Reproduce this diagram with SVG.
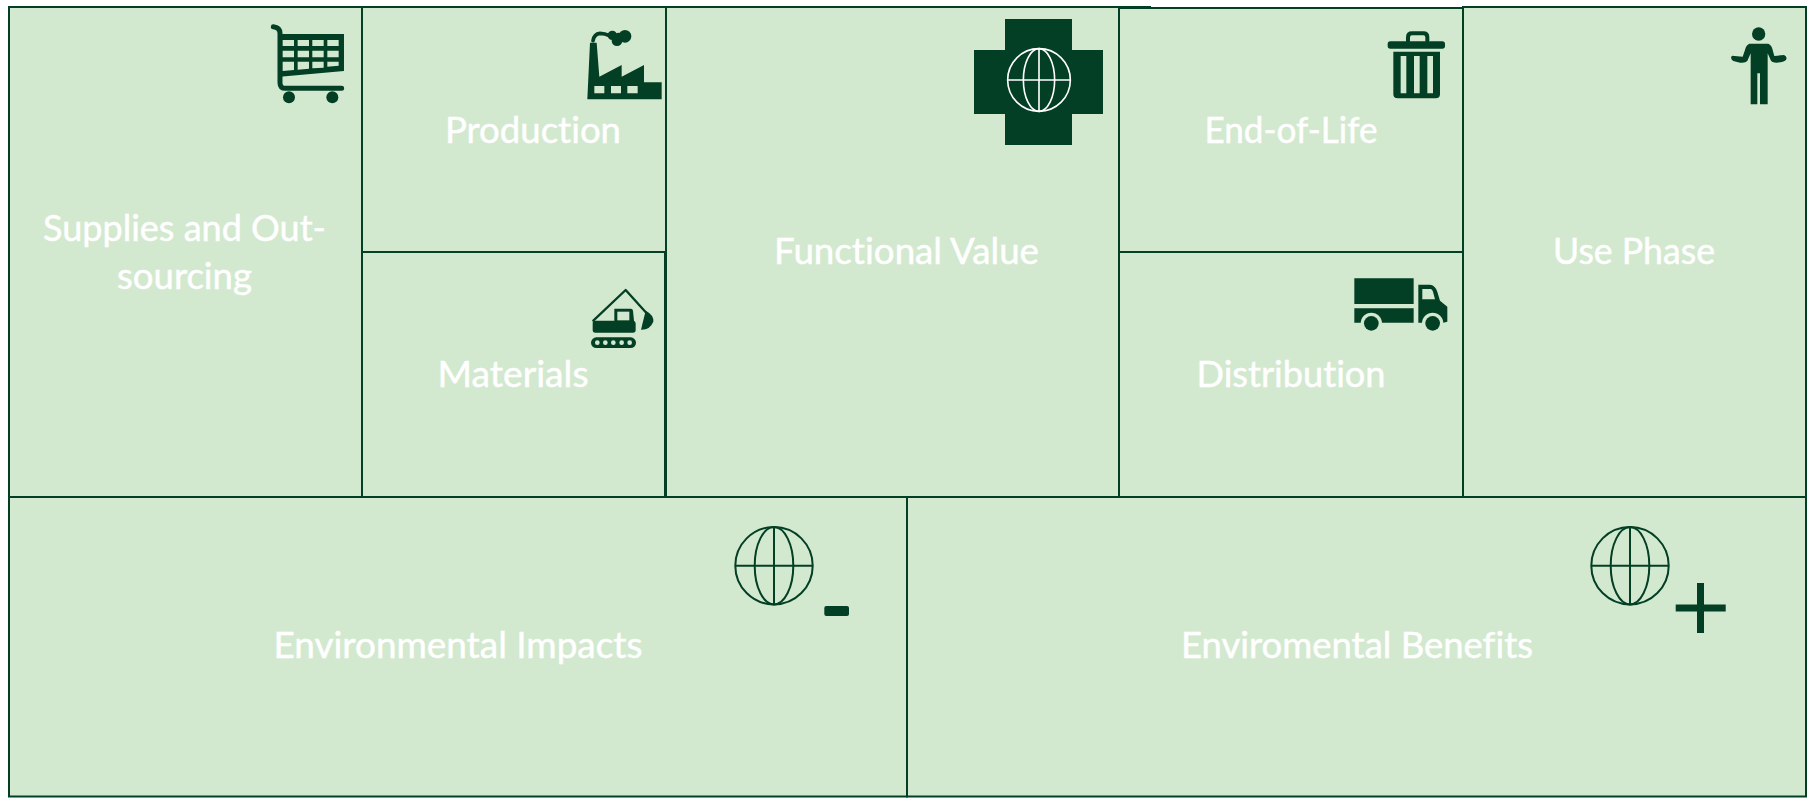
<svg xmlns="http://www.w3.org/2000/svg" width="1820" height="806" viewBox="0 0 1820 806">
<style>
.cell{fill:#d3e9cf;stroke:#033f24;stroke-width:2}
.lbl{font-family:"Lato","Liberation Sans",sans-serif;font-size:37px;fill:#fff;stroke:#fff;stroke-width:.45;text-anchor:middle;font-variant-ligatures:none}
.ic{fill:#033f24}
.hole{fill:#d3e9cf}
.ln{fill:none;stroke:#033f24;stroke-linecap:round;stroke-linejoin:round}
</style>
<defs>
<g id="globe" fill="none" stroke-width="2">
<circle cx="0" cy="0" r="38.7"/>
<ellipse cx="0" cy="0" rx="19.3" ry="38.7"/>
<path d="M0,-38.7V38.7M-38.7,0H38.7"/>
</g>
</defs>
<rect width="1820" height="806" fill="#fff"/>

<g id="functional-value">
<rect class="cell" x="666" y="7" width="484" height="490"/>
<path class="ic" d="M1005,19H1072V50H1103V114H1072V145H1005V114H974V50H1005Z"/>
<use href="#globe" transform="translate(1039,80) scale(.81)" stroke="#fff"/>
<text class="lbl" x="906.5" y="264" textLength="265" lengthAdjust="spacingAndGlyphs">Functional Value</text>
</g>

<g id="supplies">
<rect class="cell" x="9" y="7" width="353" height="490"/>
<g transform="translate(260,10) scale(.3333)">
<path class="ln" d="M40,50Q60,52 60,70V218Q60,235 77,235H245" stroke-width="15"/>
<path class="ic" d="M60,72H252V183L60,200Z"/>
<path class="hole" d="M68,90H102V108H68ZM113,90H147V108H113ZM157,90H191V108H157ZM202,90H236V108H202ZM68,122H102V142H68ZM113,122H147V142H113ZM157,122H191V142H157ZM202,122H236V142H202ZM68,155H102V180L68,183ZM113,155H147V176L113,179ZM157,155H191V173L157,175ZM202,155H236V167L202,170Z"/>
<circle class="ic" cx="87" cy="262" r="18"/>
<circle class="ic" cx="217" cy="262" r="18"/>
</g>
<text class="lbl" x="184.5" y="241" textLength="283" lengthAdjust="spacingAndGlyphs">Supplies and Out-</text>
<text class="lbl" x="184.5" y="289" textLength="135" lengthAdjust="spacingAndGlyphs">sourcing</text>
</g>

<g id="production">
<rect class="cell" x="362" y="7" width="304" height="245"/>
<g transform="translate(570,20) scale(.3333)">
<path class="ic" d="M60,68H80L88,170L155,135V170L222,135V187H275V238H52Z"/>
<path class="hole" d="M73,198H103V220H73ZM123,198H153V220H123ZM172,198H203V220H172Z"/>
<path class="ln" d="M69,62Q72,42 90,40Q105,40 118,47" stroke-width="11"/>
<circle class="ic" cx="127" cy="46" r="14"/>
<circle class="ic" cx="141" cy="62" r="16"/>
<circle class="ic" cx="165" cy="49" r="19"/>
<circle class="ic" cx="146" cy="50" r="12"/>
</g>
<text class="lbl" x="533" y="143" textLength="176" lengthAdjust="spacingAndGlyphs">Production</text>
</g>

<g id="materials">
<rect class="cell" x="362" y="252" width="303" height="245"/>
<g transform="translate(580,280) scale(.3333)">
<path class="ln" d="M40,122L137,30L200,100" stroke-width="7"/>
<path class="ic" d="M197,92Q222,105 220,125Q210,150 183,149Z"/>
<path class="ic" d="M103,86H153Q158,86 159,92L162,122Q166,124 167,130V150Q167,158 159,158H46Q38,158 38,150V130Q38,122 46,122H103Z"/>
<rect class="hole" x="112" y="95" width="36" height="26"/>
<rect class="ic" x="33" y="172" width="135" height="32" rx="16"/>
<g class="hole"><circle cx="52" cy="188" r="7"/><circle cx="76" cy="188" r="7"/><circle cx="100" cy="188" r="7"/><circle cx="125" cy="188" r="7"/><circle cx="149" cy="188" r="7"/></g>
</g>
<text class="lbl" x="513" y="387" textLength="151" lengthAdjust="spacingAndGlyphs">Materials</text>
</g>

<g id="end-of-life">
<rect class="cell" x="1119" y="8" width="344" height="244"/>
<g transform="translate(1380,20) scale(.3333)">
<path class="ln" d="M84,62V52Q84,40 96,40H130Q142,40 142,52V62" stroke-width="12"/>
<rect class="ic" x="23" y="64" width="172" height="22" rx="8"/>
<path class="ic" d="M40,95H180V222Q180,235 167,235H53Q40,235 40,222Z"/>
<path class="hole" d="M62,108H79V220H62ZM102,108H119V220H102ZM142,108H159V220H142Z"/>
</g>
<text class="lbl" x="1291" y="143" textLength="173" lengthAdjust="spacingAndGlyphs">End-of-Life</text>
</g>

<g id="distribution">
<rect class="cell" x="1119" y="252" width="344" height="245"/>
<g transform="translate(1340,270) scale(.3333)">
<path class="ic" d="M43,25H221V102H43ZM43,115H221V158H43Z"/>
<path class="ic" d="M235,44H270Q285,45 292,65L300,92L322,110V155L310,158H235Z"/>
<path class="hole" d="M247,57H272Q277,58 279,65L285,88H247Z"/>
<circle class="hole" cx="94" cy="160" r="32"/>
<circle class="hole" cx="278" cy="160" r="32"/>
<rect class="hole" x="40" y="159" width="290" height="30"/>
<circle class="ic" cx="94" cy="160" r="22"/>
<circle class="ic" cx="278" cy="160" r="22"/>
</g>
<text class="lbl" x="1291" y="387" textLength="189" lengthAdjust="spacingAndGlyphs">Distribution</text>
</g>

<g id="use-phase">
<rect class="cell" x="1463" y="7" width="343" height="490"/>
<g transform="translate(1720,15) scale(.3333)">
<circle class="ic" cx="116" cy="57" r="20"/>
<path class="ic" d="M88,86H145Q155,90 158,105L163,123L192,120Q203,125 198,135Q190,142 170,143Q155,143 152,135L143,115V268H120V175H112V268H92V115L82,138Q76,145 60,143L40,138Q29,130 36,122L68,125L75,105Q78,90 88,86Z"/>
</g>
<text class="lbl" x="1634" y="264" textLength="162" lengthAdjust="spacingAndGlyphs">Use Phase</text>
</g>

<g id="environmental-impacts">
<rect class="cell" x="9" y="497" width="898" height="299.500"/>
<use href="#globe" x="774" y="565.700" stroke="#033f24"/>
<rect class="ic" x="824.300" y="606" width="24.700" height="10" rx="2"/>
<text class="lbl" x="458" y="658" textLength="369" lengthAdjust="spacingAndGlyphs">Environmental Impacts</text>
</g>

<g id="environmental-benefits">
<rect class="cell" x="907" y="497" width="899" height="299.500"/>
<use href="#globe" x="1630" y="565.700" stroke="#033f24"/>
<path class="ic" d="M1697,583H1704V604.500H1725.700V611.500H1704V633H1697V611.500H1675.700V604.500H1697Z"/>
<text class="lbl" x="1357" y="658" textLength="352" lengthAdjust="spacingAndGlyphs">Enviromental Benefits</text>
</g>

<g id="connectors"></g>
</svg>
